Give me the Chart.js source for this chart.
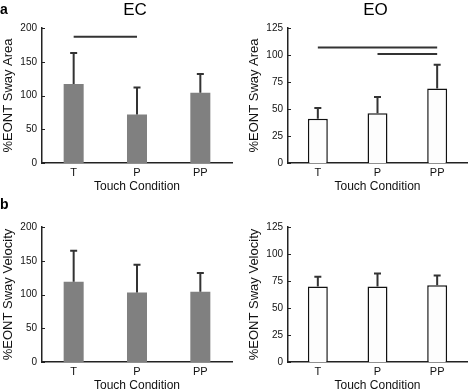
<!DOCTYPE html>
<html>
<head>
<meta charset="utf-8">
<script src="https://cdn.jsdelivr.net/npm/chart.js@4"></script>
<style>
    html, body { margin: 0; padding: 0; background: #fff; overflow: hidden; }
    body { width: 474px; height: 391px; position: relative; }
    .panel { position: absolute; }
</style>
</head>
<body>
<div class="panel" style="left:0;top:0"><canvas id="ecArea" width="237" height="194"></canvas></div>
<div class="panel" style="left:237px;top:0"><canvas id="eoArea" width="237" height="194"></canvas></div>
<div class="panel" style="left:0;top:195px"><canvas id="ecVel" width="237" height="198"></canvas></div>
<div class="panel" style="left:237px;top:195px"><canvas id="eoVel" width="237" height="198"></canvas></div>
<script>
const categories = ['T', 'P', 'PP'];

// a: sway area, mean and upper error (SD)
const ecAreaMean = [117, 72, 104];
const ecAreaErr = [46, 40, 28];
const eoAreaMean = [41, 46, 69];
const eoAreaErr = [10, 15, 22];

// b: sway velocity
const ecVelMean = [119, 103, 104];
const ecVelErr = [46, 41, 28];
const eoVelMean = [70, 70, 71];
const eoVelErr = [9, 12, 9];

// significance bars: [from category, to category, y value]
const ecAreaSig = [[0, 1, 187]];
const eoAreaSig = [[0, 2, 107], [1, 2, 101]];
const ecVelSig = [];
const eoVelSig = [];

const FONT = "'Liberation Sans', Arial, sans-serif";

const extrasPlugin = {
    id: 'extras',
    afterDatasetsDraw: function (chart) {
        const cfg = chart.options.plugins.extras;
        const ctx = chart.ctx;
        const xs = chart.scales.x;
        const ys = chart.scales.y;
        const meta = chart.getDatasetMeta(0);
        const means = chart.data.datasets[0].data;
        ctx.save();
        ctx.strokeStyle = '#333';
        ctx.lineWidth = 2;
        // upper error bars
        for (let i = 0; i < means.length; i++) {
            const x = meta.data[i].x;
            const y0 = ys.getPixelForValue(means[i]);
            const y1 = ys.getPixelForValue(means[i] + cfg.err[i]);
            ctx.beginPath();
            ctx.moveTo(x, y0);
            ctx.lineTo(x, y1);
            ctx.moveTo(x - 3.5, y1);
            ctx.lineTo(x + 3.5, y1);
            ctx.stroke();
        }
        // significance lines
        for (let i = 0; i < cfg.sig.length; i++) {
            const s = cfg.sig[i];
            const y = ys.getPixelForValue(s[2]);
            ctx.beginPath();
            ctx.moveTo(xs.getPixelForValue(s[0]), y);
            ctx.lineTo(xs.getPixelForValue(s[1]), y);
            ctx.stroke();
        }
        // small inward ticks on the y axis
        ctx.strokeStyle = '#222';
        ctx.lineWidth = 1;
        for (let i = 0; i < ys.ticks.length; i++) {
            const y = Math.round(ys.getPixelForTick(i)) + 0.5;
            ctx.beginPath();
            ctx.moveTo(ys.right, y);
            ctx.lineTo(ys.right + 3, y);
            ctx.stroke();
        }
        // panel letter and heading
        ctx.fillStyle = '#000';
        if (cfg.letter) {
            ctx.font = 'bold 14px ' + FONT;
            ctx.textAlign = 'left';
            ctx.textBaseline = 'alphabetic';
            ctx.fillText(cfg.letter, 0, 14);
        }
        if (cfg.heading) {
            ctx.font = '17px ' + FONT;
            ctx.textAlign = 'center';
            ctx.textBaseline = 'alphabetic';
            ctx.fillText(cfg.heading, (chart.chartArea.left + chart.chartArea.right) / 2 - 2, 15);
        }
        ctx.restore();
    }
};

function makePanel(id, p) {
    const canvas = document.getElementById(id);
    const grey = p.filled;
    return new Chart(canvas, {
        type: 'bar',
        data: {
            labels: categories,
            datasets: [{
                data: p.mean,
                backgroundColor: grey ? '#808080' : '#fdfdfd',
                borderColor: grey ? '#808080' : '#111',
                borderWidth: grey ? 0 : 1.5,
                borderSkipped: 'bottom',
                barPercentage: 1,
                categoryPercentage: p.catPct
            }]
        },
        options: {
            responsive: false,
            animation: false,
            devicePixelRatio: 1,
            layout: {
                padding: { left: p.left - 42, right: p.right, top: p.top, bottom: 0 }
            },
            plugins: {
                legend: { display: false },
                tooltip: { enabled: false },
                extras: { err: p.err, sig: p.sig, letter: p.letter, heading: p.heading }
            },
            scales: {
                x: {
                    grid: { display: false, drawTicks: false },
                    border: { display: true, color: '#222', width: 1.5 },
                    ticks: { color: '#111', font: { family: FONT, size: 11 }, padding: 3 },
                    title: {
                        display: true,
                        text: 'Touch Condition',
                        color: '#111',
                        font: { family: FONT, size: 12 },
                        padding: { top: 0, bottom: 0 }
                    },
                    afterFit: function (scale) {
                        scale.height = canvas.height - p.bottom;
                    }
                },
                y: {
                    min: 0,
                    max: p.max,
                    grid: { display: false, drawTicks: false },
                    border: { display: true, color: '#222', width: 1.5 },
                    ticks: { stepSize: p.step, color: '#111', font: { family: FONT, size: 10 }, padding: 5 },
                    title: {
                        display: true,
                        text: p.yTitle,
                        color: '#111',
                        font: { family: FONT, size: 13 },
                        padding: { top: 1, bottom: 0 }
                    },
                    afterFit: function (scale) {
                        scale.width = 42;
                    }
                }
            }
        },
        plugins: [extrasPlugin]
    });
}

makePanel('ecArea', {
    mean: ecAreaMean, err: ecAreaErr, sig: ecAreaSig, filled: true,
    max: 200, step: 50, yTitle: '%EONT Sway Area', letter: 'a', heading: 'EC',
    left: 42, right: 5, top: 28, bottom: 163, catPct: 0.316
});
makePanel('eoArea', {
    mean: eoAreaMean, err: eoAreaErr, sig: eoAreaSig, filled: false,
    max: 125, step: 25, yTitle: '%EONT Sway Area', letter: '', heading: 'EO',
    left: 51, right: 7, top: 28, bottom: 163, catPct: 0.334
});
makePanel('ecVel', {
    mean: ecVelMean, err: ecVelErr, sig: ecVelSig, filled: true,
    max: 200, step: 50, yTitle: '%EONT Sway Velocity', letter: 'b', heading: '',
    left: 42, right: 5, top: 32, bottom: 167, catPct: 0.316
});
makePanel('eoVel', {
    mean: eoVelMean, err: eoVelErr, sig: eoVelSig, filled: false,
    max: 125, step: 25, yTitle: '%EONT Sway Velocity', letter: '', heading: '',
    left: 51, right: 7, top: 32, bottom: 167, catPct: 0.334
});
</script>
</body>
</html>
